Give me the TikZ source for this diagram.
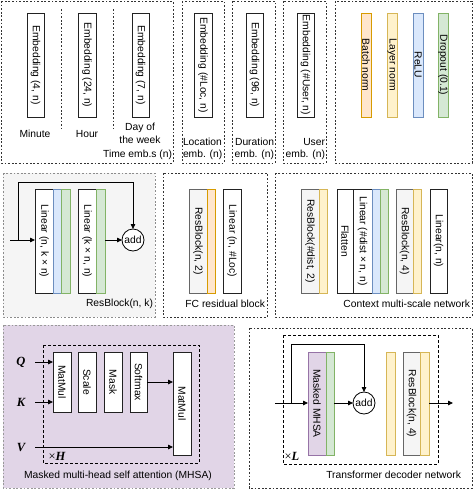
\documentclass[tikz,border=0pt]{standalone}
\usepackage{fontspec}
\setmainfont{Liberation Sans}
\newfontfamily\qkvfont{Liberation Serif}
\usetikzlibrary{arrows.meta}
\definecolor{frameline}{HTML}{333333}
\definecolor{boxline}{HTML}{222222}
\definecolor{rbfill}{HTML}{F5F5F5}
\definecolor{rbline}{HTML}{666666}
\definecolor{bnfill}{HTML}{FFE6CC}
\definecolor{bnline}{HTML}{D79B00}
\definecolor{lnfill}{HTML}{FFF2CC}
\definecolor{lnline}{HTML}{D6B656}
\definecolor{relufill}{HTML}{DAE8FC}
\definecolor{reluline}{HTML}{6C8EBF}
\definecolor{dropfill}{HTML}{D5E8D4}
\definecolor{dropline}{HTML}{82B366}
\definecolor{mhsafill}{HTML}{E1D5E7}
\definecolor{mhsaline}{HTML}{9673A6}

\begin{document}
\begin{tikzpicture}
[
    x=1pt, y=-1pt,
    every node/.style={font=\fontsize{10.3}{12.4}\selectfont, inner sep=0pt, outer sep=0pt},
    frame/.style={draw=frameline, line width=0.9pt, dash pattern=on 1.8pt off 1.8pt},
    headframe/.style={draw=black, line width=0.8pt, dash pattern=on 3pt off 2pt},
    vtext/.style={label={[rotate=-90]center:#1}},
    layer/.style={draw=boxline, line width=0.8pt, fill=white, minimum width=18pt, minimum height=104pt},
    resblock/.style={layer, fill=rbfill, draw=rbline},
    strip/.style={line width=0.8pt, minimum width=8pt, minimum height=104pt},
    bnorm/.style={strip, draw=bnline, fill=bnfill},
    lnorm/.style={strip, draw=lnline, fill=lnfill},
    relu/.style={strip, draw=reluline, fill=relufill},
    drop/.style={strip, draw=dropline, fill=dropfill},
    addop/.style={circle, draw=black, fill=white, line width=0.8pt, minimum size=22pt},
    symb/.style={font=\fontsize{12.5}{14}\selectfont\qkvfont},
    arr/.style={-{Triangle[length=5pt,width=4.5pt]}, line width=0.8pt},
]
\useasboundingbox (0,0) rectangle (474,493);

\draw[frame] (1,1) rectangle (173,163);
\draw[frame] (61,9) -- (61,129);
\draw[frame] (113,9) -- (113,129);
\draw[frame] (182,1) rectangle (224,163);
\draw[frame] (232,1) rectangle (275,163);
\draw[frame] (283,1) rectangle (326,163);
\draw[frame] (335,1) rectangle (472,163);

\node[layer, minimum width=17pt, vtext={Embedding (4, n)}] (embMin) at (35.5,65) {};
\node[layer, vtext={Embedding (24, n)}] (embHour) at (87,65) {};
\node[layer, minimum width=17pt, vtext={Embedding (7, n)}] (embDay) at (140.5,65) {};
\node[layer, vtext={Embedding (\#Loc, n)}] (embLoc) at (203,65) {};
\node[layer, minimum width=17pt, vtext={Embedding (96, n)}] (embDur) at (254.5,65) {};
\node[layer, minimum width=17pt, vtext={Embedding (\#User, n)}] (embUser) at (305.5,65) {};

\node (lblMin) at (35,134) {Minute};
\node (lblHour) at (87,134) {Hour};
\node[align=center] (lblDay) at (140,133.5) {Day of\\the week};
\node[anchor=east] (lblTime) at (172,155) {Time emb.s (n)};
\node[align=left, anchor=west] (lblLoc) at (183,149) {Location\\emb. (n)};
\node[align=right, anchor=east] (lblDur) at (274,149) {Duration\\emb. (n)};
\node[align=right, anchor=east] (lblUser) at (325,149) {User\\emb. (n)};

\node[bnorm, minimum width=10pt, vtext={Batch norm}] (legBN) at (366,65) {};
\node[lnorm, minimum width=10pt, vtext={Layer norm}] (legLN) at (392,65) {};
\node[relu, minimum width=10pt, vtext={ReLU}] (legReLU) at (418,65) {};
\node[drop, minimum width=10pt, vtext={Dropout (0.1)}] (legDrop) at (443,65) {};

\draw[frame, draw=black!45, fill=rbfill] (3,173) rectangle (155,317);
\draw[frame] (163,173) rectangle (267,317);
\draw[frame] (275,173) rectangle (472,317);

\node[layer, vtext={Linear (n, k × n)}] (lin1) at (44,241) {};
\node[relu, anchor=west] (relu1) at (lin1.east) {};
\node[drop, minimum width=9pt, anchor=west] (drop1) at (relu1.east) {};
\node[layer, vtext={Linear (k × n, n)}] (lin2) at (87,241) {};
\node[drop, minimum width=9pt, anchor=west] (drop2) at (lin2.east) {};
\node[addop] (add1) at (133,240) {add};
\coordinate (resIn) at (10,240);
\coordinate (resSplit) at (18,240);
\coordinate (resTop) at (133,182);
\draw[arr] (resIn) -- (resIn -| lin1.west);
\draw[arr] (resSplit) |- (resTop) -- (add1.north);
\draw[arr] (drop2.east |- add1) -- (add1.west);
\node[anchor=east] (lblRes) at (153,304) {ResBlock(n, k)};

\node[resblock, vtext={ResBlock(n, 2)}] (rbFC) at (198,241) {};
\node[bnorm, anchor=west] (bnFC) at (rbFC.east) {};
\node[layer, vtext={Linear (n, \#Loc)}] (linLoc) at (232,241) {};
\node[anchor=east] (lblFC) at (265,304) {FC residual block};

\node[resblock, vtext={ResBlock(\#dist, 2)}] (rbDist) at (310,241) {};
\node[lnorm, anchor=west] (lnDist) at (rbDist.east) {};
\node[layer, minimum width=16pt, vtext={Flatten}] (flat) at (345,241) {};
\node[layer, minimum width=19pt, anchor=west, vtext={Linear (\#dist × n, n)}] (linDist) at (flat.east) {};
\node[relu, anchor=west] (reluCtx) at (linDist.east) {};
\node[drop, anchor=west] (dropCtx) at (reluCtx.east) {};
\node[resblock, minimum width=17pt, vtext={ResBlock(n, 4)}] (rbCtx) at (404.5,241) {};
\node[lnorm, anchor=west] (lnCtx) at (rbCtx.east) {};
\node[layer, minimum width=17pt, vtext={Linear(n, n)}] (linN) at (438.5,241) {};
\node[anchor=east] (lblCtx) at (470,304) {Context multi-scale network};

\draw[frame, draw=black!40, fill=mhsafill] (3,325) rectangle (234,488);
\draw[headframe] (43,345) rectangle (199,463);
\node[layer, minimum height=60pt, vtext={MatMul}] (mm1) at (62,382) {};
\node[layer, minimum height=60pt, vtext={Scale}] (scl) at (87,382) {};
\node[layer, minimum height=60pt, vtext={Mask}] (msk) at (113,382) {};
\node[layer, minimum height=60pt, minimum width=17pt, vtext={Softmax}] (smax) at (138.5,382) {};
\node[layer, minimum height=103pt, vtext={MatMul}] (mm2) at (182,403.5) {};
\node[symb] (lblQ) at (21,362) {\bfseries\itshape Q};
\node[symb] (lblK) at (21,402) {\bfseries\itshape K};
\node[symb] (lblV) at (21,447) {\bfseries\itshape V};
\coordinate (qIn) at (35,362);
\coordinate (kIn) at (35,402);
\coordinate (vIn) at (35,447);
\draw[arr] (qIn) -- (qIn -| mm1.west);
\draw[arr] (kIn) -- (kIn -| mm1.west);
\draw[arr] (vIn) -- (vIn -| mm2.west);
\draw[arr] (smax.east) -- (smax.east -| mm2.west);
\node[symb] (headsH) at (57,456) {×\bfseries\itshape H};
\node (lblMHSA) at (118,476) {Masked multi-head self attention (MHSA)};

\draw[frame] (249,328) rectangle (472,488);
\draw[headframe] (283,335) rectangle (438,464);
\node[layer, fill=mhsafill, draw=mhsaline, minimum height=103pt, vtext={Masked MHSA}] (mhsa) at (317,403.5) {};
\node[drop, minimum height=103pt, anchor=west] (dropT) at (mhsa.east) {};
\node[addop] (add2) at (364,403) {add};
\node[lnorm, minimum width=9pt, minimum height=103pt] (lnT1) at (390.5,403.5) {};
\node[resblock, minimum width=17pt, minimum height=103pt, vtext={ResBlock(n, 4)}] (rbT) at (411.5,403.5) {};
\node[lnorm, minimum width=9pt, minimum height=103pt, anchor=west] (lnT2) at (rbT.east) {};
\coordinate (decIn) at (275,403);
\coordinate (decSplit) at (291,403);
\coordinate (decTop) at (364,344);
\coordinate (decOut) at (453,403);
\draw[arr] (decIn) -- (decIn -| mhsa.west);
\draw[arr] (decSplit) |- (decTop) -- (add2.north);
\draw[arr] (dropT.east |- add2) -- (add2.west);
\draw[arr] (lnT2.east |- decOut) -- (decOut);
\node[symb] (layersL) at (292,456) {×\bfseries\itshape L};
\node[anchor=east] (lblDec) at (461,475) {Transformer decoder network};
\end{tikzpicture}
\end{document}
